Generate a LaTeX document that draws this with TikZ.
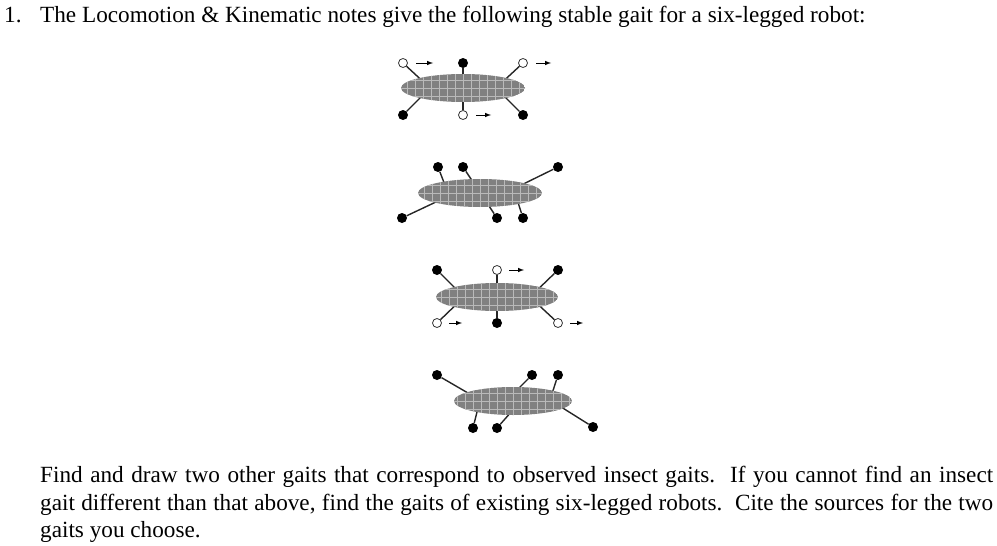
\documentclass[tikz,border=0pt]{standalone}
\usepackage{fontspec}
\setmainfont{Liberation Serif}
\begin{document}
\begin{tikzpicture}[x=1pt,y=-1pt,
  leg/.style={line width=1.4pt,black!85},
  foot/.style={circle,fill=black,inner sep=0pt,minimum size=10pt},
  ofoot/.style={circle,draw=black!80,fill=white,line width=0.8pt,inner sep=0pt,minimum size=9pt},
  mv/.style={-latex,line width=1pt},
  txt/.style={font=\fontsize{23.2}{27.5}\selectfont,inner sep=0pt,anchor=base west}]
\useasboundingbox (0,0) rectangle (997,546);
\newcommand{\robot}[4]{% cx cy rx
  \begin{scope}
  \clip (#1,#2) ellipse [x radius=#3,y radius=14];
  \fill[gray] (#1,#2) ellipse [x radius=#3,y radius=14];
  \foreach \i in {-8,...,8} \draw[gray!55,line width=0.5pt] (#1+\i*8,#2-15)--(#1+\i*8,#2+15);
  \foreach \j in {-1,...,1} \draw[gray!55,line width=0.5pt] (#1-70,#2+\j*8)--(#1+70,#2+\j*8);
  \end{scope}}
% robot 1
\node[ofoot] (a1) at (403,63) {}; \node[foot] (a2) at (463,63) {}; \node[ofoot] (a3) at (523,63) {};
\node[foot] (a4) at (403,115) {}; \node[ofoot] (a5) at (463,115) {}; \node[foot] (a6) at (523,115) {};
\coordinate (h1) at (430,88); \coordinate (h2) at (463,88); \coordinate (h3) at (496,88);
\foreach \f/\h in {a1/h1,a2/h2,a3/h3,a4/h1,a5/h2,a6/h3} \draw[leg] (\f)--(\h);
\robot{463}{88}{62}{}
\draw[mv] (416,63)--(433,63); \draw[mv] (536,63)--(551,63); \draw[mv] (476,115)--(491,115);
% robot 2
\node[foot] (b1) at (438,167) {}; \node[foot] (b2) at (463,167) {}; \node[foot] (b3) at (558,167) {};
\node[foot] (b4) at (402,218) {}; \node[foot] (b5) at (497,218) {}; \node[foot] (b6) at (523,218) {};
\draw[leg] (b1)--(448,193); \draw[leg] (b2)--(b5); \draw[leg] (b3)--(505,193);
\draw[leg] (b4)--(455,193); \draw[leg] (b6)--(515,193);
\robot{480}{193}{62}{}
% robot 3
\node[foot] (c1) at (437,270) {}; \node[ofoot] (c2) at (497,270) {}; \node[foot] (c3) at (558,270) {};
\node[ofoot] (c4) at (437,323) {}; \node[foot] (c5) at (497,323) {}; \node[ofoot] (c6) at (558,323) {};
\coordinate (k1) at (464,297); \coordinate (k2) at (497,297); \coordinate (k3) at (530,297);
\foreach \f/\h in {c1/k1,c2/k2,c3/k3,c4/k1,c5/k2,c6/k3} \draw[leg] (\f)--(\h);
\robot{497}{297}{61}{}
\draw[mv] (509,270)--(524,270); \draw[mv] (449,323)--(462,323); \draw[mv] (570,323)--(583,323);
% robot 4
\node[foot] (d1) at (437,375) {}; \node[foot] (d2) at (532,375) {}; \node[foot] (d3) at (558,375) {};
\node[foot] (d4) at (473,428) {}; \node[foot] (d5) at (497,428) {}; \node[foot] (d6) at (593,427) {};
\draw[leg] (d1)--(480,400); \draw[leg] (d2)--(505,402); \draw[leg] (d3)--(550,400);
\draw[leg] (d4)--(480,400); \draw[leg] (d5)--(520,402); \draw[leg] (d6)--(550,400);
\robot{513}{401}{59}{}
% text
\node[txt] (n1) at (4,22) {1.};
\node[txt] (t1) at (40,22) {The Locomotion \& Kinematic notes give the following stable gait for a six-legged robot:};
\node[txt,text width=953pt,align=justify,anchor=north west] (p) at (40,466) {Find and draw two other gaits that correspond to observed insect gaits.\ \ If you cannot find an insect\linebreak gait different than that above, find the gaits of existing six-legged robots.\ \ Cite the sources for the two\linebreak gaits you choose.};
\end{tikzpicture}
\end{document}
